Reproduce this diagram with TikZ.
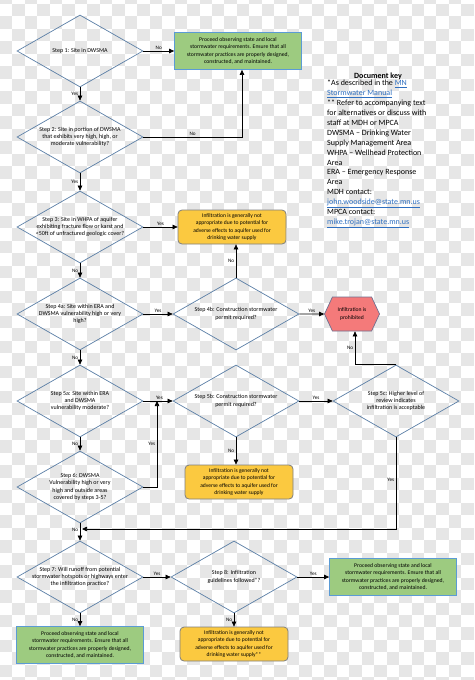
\documentclass[tikz,border=0pt]{standalone}
\usepackage{tikz}
\usetikzlibrary{positioning,arrows.meta,shapes.geometric,shapes.symbols}
\usepackage{fontspec}
\setmainfont{Carlito}

\definecolor{diamondline}{HTML}{5B7FA6}
\definecolor{greenfill}{HTML}{9DCB80}
\definecolor{greenline}{HTML}{5B9BD5}
\definecolor{yellowfill}{HTML}{FBC940}
\definecolor{yellowline}{HTML}{7F7F7F}
\definecolor{redfill}{HTML}{F47A7A}
\definecolor{redline}{HTML}{6F6F8F}
\definecolor{linkblue}{HTML}{2E6FC0}
\definecolor{checker}{HTML}{E6E6E6}

\begin{document}
\begin{tikzpicture}[x=1pt,y=-1pt,
				decision/.style={diamond, draw=diamondline, line width=0.7pt, aspect=1.75,
					inner sep=-12pt, minimum width=126pt, minimum height=72pt,
					align=center, font=\fontsize{6}{7.3}\selectfont},
				okbox/.style={rectangle, draw=greenline, fill=greenfill, line width=0.8pt,
					minimum width=127pt, minimum height=37pt, inner sep=1pt,
					align=center, font=\fontsize{5.7}{7.4}\selectfont},
				nobox/.style={rectangle, rounded corners=4pt, draw=yellowline, fill=yellowfill,
					line width=0.8pt, minimum width=108pt, minimum height=34pt, inner sep=1pt,
					align=center, font=\fontsize{5.6}{7.4}\selectfont},
				stopbox/.style={signal, signal to=west and east, signal pointer angle=130,
					draw=redline, fill=redfill, line width=0.7pt, minimum width=55pt,
					minimum height=34pt, inner sep=1pt, align=center,
					font=\fontsize{5.6}{7.2}\selectfont},
				arr/.style={-{Triangle[length=5pt,width=4.5pt]}, line width=0.65pt},
				lbl/.style={font=\fontsize{5.2}{6}\selectfont, inner sep=1.5pt}
				]
				\useasboundingbox (0,0) rectangle (474,680);
				\fill[white] (0,0) rectangle (474,680);
				% checkered background
				\foreach \i in {0,...,37}
				\foreach \j in {0,...,55} {
					\pgfmathparse{int(mod(\i+\j,2))}
					\ifnum\pgfmathresult=0
					\fill[checker] (\i*12.47,\j*12.47-8.5) rectangle ++(12.47,12.47);
					\fi
				}
				
				% decisions
				\node[decision] (d1) at (80,51) {Step 1: Site in DWSMA};
				\node[decision] (d2) at (80,137) {Step 2: Site in portion of DWSMA\\that exhibits very high, high, or\\moderate vulnerability?};
				\node[decision] (d3) at (80,227) {Step 3: Site in WHPA of aquifer\\exhibiting fracture flow or karst and\\<50ft of unfractured geologic cover?};
				\node[decision] (d4a) at (80,314) {Step 4a: Site within ERA and\\DWSMA vulnerability high or very\\high?};
				\node[decision] (d4b) at (236,314) {Step 4b: Construction stormwater\\permit required?};
				\node[decision] (d5a) at (80,401) {Step 5a: Site within ERA\\and DWSMA\\vulnerability moderate?};
				\node[decision] (d5b) at (236,401) {Step 5b: Construction stormwater\\permit required?};
				\node[decision] (d5c) at (396,401) {Step 5c: Higher level of\\review indicates\\infiltration is acceptable};
				\node[decision] (d6) at (80,487) {Step 6: DWSMA\\Vulnerability high or very\\high and outside areas\\covered by steps 3-5?};
				\node[decision] (d7) at (80,577) {Step 7: Will runoff from potential\\stormwater hotspots or highways enter\\the infiltration practice?};
				\node[decision] (d8) at (234,577) {Step 8: Infiltration\\guidelines followed*?};
				
				% outcomes
				\node[okbox] (g1) at (238,51) {Proceed observing state and local\\stormwater requirements. Ensure that all\\stormwater practices are properly designed,\\constructed, and maintained.};
				\node[okbox] (g2) at (80,645) {Proceed observing state and local\\stormwater requirements. Ensure that all\\stormwater practices are properly designed,\\constructed, and maintained.};
				\node[okbox] (g3) at (393,577) {Proceed observing state and local\\stormwater requirements. Ensure that all\\stormwater practices are properly designed,\\constructed, and maintained.};
				\node[nobox] (y1) at (232,227) {Infiltration is generally not\\appropriate due to potential for\\adverse effects to aquifer used for\\drinking water supply};
				\node[nobox] (y2) at (239,482) {Infiltration is generally not\\appropriate due to potential for\\adverse effects to aquifer used for\\drinking water supply};
				\node[nobox] (y3) at (234,644) {Infiltration is generally not\\appropriate due to potential for\\adverse effects to aquifer used for\\drinking water supply**};
				\node[stopbox] (stop) at (352,314) {Infiltration is\\prohibited};
				
				\coordinate (merge) at (157,401);
				\coordinate (join) at (82,529);
				
				% key
				\node[font=\fontsize{8}{10}\selectfont\bfseries] (keytitle) at (378,76) {Document key};
				\node[anchor=north west, align=left, inner sep=0pt,
				font=\fontsize{8}{9.9}\selectfont] (key) at (327,80) {*As described in the \textcolor{linkblue}{\underline{MN}}\\
					\textcolor{linkblue}{\underline{Stormwater Manual}}\\
					** Refer to accompanying text\\
					for alternatives or discuss with\\
					staff at MDH or MPCA\\
					DWSMA -- Drinking Water\\
					Supply Management Area\\
					WHPA -- Wellhead Protection\\
					Area\\
					ERA -- Emergency Response\\
					Area\\
					MDH contact:\\
					\textcolor{linkblue}{\underline{john.woodside@state.mn.us}}\\
					MPCA contact:\\
					\textcolor{linkblue}{\underline{mike.trojan@state.mn.us}}};
				
				% connectors
				\draw[arr] (d1) -- node[lbl,above]{No} (g1);
				\draw[arr] (d1) -- node[lbl,left]{Yes} (d2);
				\draw[arr] (d2.east) -| node[lbl,above,pos=0.25]{No} ([xshift=4pt]g1.south);
				\draw[arr] (d2) -- node[lbl,left]{Yes} (d3);
				\draw[arr] (d3) -- node[lbl,above]{Yes} (y1);
				\draw[arr] (d3) -- node[lbl,left]{No} (d4a);
				\draw[arr] (d4a) -- node[lbl,above]{Yes} (d4b);
				\draw[arr] (d4b.north) -- node[lbl,left]{No} (d4b.north |- y1.south);
				\draw[arr] (d4b) -- node[lbl,above]{Yes} (stop);
				\draw[arr] (d4a) -- node[lbl,left]{No} (d5a);
				\draw[arr] (d5a) -- node[lbl,above,pos=0.55]{Yes} (d5b);
				\draw[arr] (d5b) -- node[lbl,above]{Yes} (d5c);
				\draw[arr] (d5c.north) -| node[lbl,left,pos=0.75]{No} ([xshift=3pt]stop.south);
				\draw[arr] (d5b.south) -- node[lbl,left]{No} (d5b.south |- y2.north);
				\draw[arr] (d5a) -- node[lbl,left]{No} (d6);
				\draw[arr] (d6.east) -| node[lbl,left,pos=0.75]{Yes} (merge);
				\draw[arr] (d5c.south) |- node[lbl,left,pos=0.23]{Yes} (join);
				\draw[arr] (d6) -- node[lbl,left,pos=0.4]{No} (d7);
				\draw[arr] (d7) -- node[lbl,above]{Yes} (d8);
				\draw[arr] (d8) -- node[lbl,above]{Yes} (g3);
				\draw[arr] (d7) -- node[lbl,left]{No} (g2);
				\draw[arr] (d8) -- node[lbl,left]{No} (y3);
\end{tikzpicture}
\end{document}
